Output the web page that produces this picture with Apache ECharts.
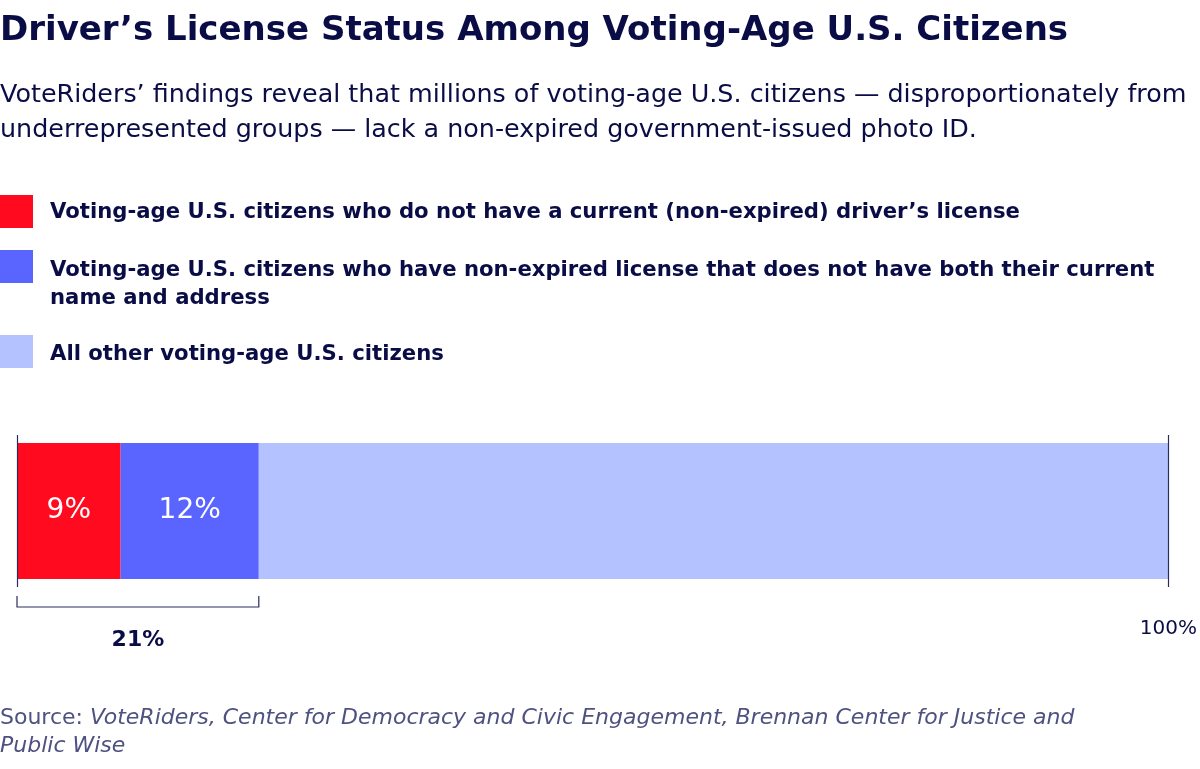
<!DOCTYPE html>
<html><head><meta charset="utf-8">
<script src="https://cdn.jsdelivr.net/npm/echarts@6/dist/echarts.min.js"></script>
<style>html,body{margin:0;padding:0;background:#fff}#c{width:1200px;height:769px}</style>
</head><body><div id="c"></div>
<script>
const categories = ['Voting-age U.S. citizens'];
const seriesNames = [
  "Voting-age U.S. citizens who do not have a current (non-expired) driver’s license",
  "Voting-age U.S. citizens who have non-expired license that does not have both their current\nname and address",
  "All other voting-age U.S. citizens"
];
const seriesValues = [9, 12, 79];
const barLabels = ['9%', '12%', ''];
const bracketValue = 21;
const bracketLabel = '21%';
const axisTickLabels = [100];

const colors = ['#FF0A1E', '#5A64FF', '#B4C3FF'];
const navy = '#0A0C46';
const FONT = '"DejaVu Sans"';

const chart = echarts.init(document.getElementById('c'), null, {renderer: 'canvas'});

const series = seriesValues.map((v, i) => ({
  name: seriesNames[i],
  type: 'bar',
  stack: 'total',
  barWidth: 136,
  data: [v],
  itemStyle: {color: colors[i]},
  label: {
    show: !!barLabels[i], position: 'inside', formatter: () => barLabels[i],
    color: '#fff', fontSize: 28, fontFamily: 'DejaVu Sans', fontWeight: 'normal'
  },
  silent: true,
  markLine: i === 0 ? {
    silent: true, symbol: 'none', label: {show: false},
    lineStyle: {color: '#2A2C5E', width: 1.2, type: 'solid'},
    data: [{xAxis: 0}, {xAxis: 100}]
  } : undefined
}));

chart.setOption({
  animation: false,
  backgroundColor: '#fff',
  grid: {left: 17, right: 30, top: 435, height: 152},
  xAxis: {
    type: 'value', min: 0, max: 100,
    splitLine: {show: false}, axisLine: {show: false}, axisTick: {show: false},
    axisLabel: {customValues: axisTickLabels, formatter: v => v + '%', color: navy, fontSize: 20, fontFamily: 'DejaVu Sans', margin: 32}
  },
  yAxis: {type: 'category', data: categories, show: false},
  series: series
});

const legendTops = [195, 250, 335];
const legendTextY = [212, 284, 354];
const legendGraphics = [];
seriesNames.forEach((n, i) => {
  legendGraphics.push({type: 'rect', x: 0, y: legendTops[i], shape: {width: 33, height: 33}, style: {fill: colors[i]}});
  legendGraphics.push({type: 'text', x: 50, y: legendTextY[i],
    style: {text: n, fill: navy, font: `bold 21.2px ${FONT}`, lineHeight: 28, verticalAlign: 'middle'}});
});

// bracket from 0 to 21% via the axis scale
const x0 = chart.convertToPixel({xAxisIndex: 0}, 0);
const x1 = chart.convertToPixel({xAxisIndex: 0}, bracketValue);

chart.setOption({graphic: [
  {type: 'text', x: 0, y: 31, style: {text: 'Driver’s License Status Among Voting-Age U.S. Citizens', fill: navy, font: `bold 34px ${FONT}`, verticalAlign: 'middle'}},
  {type: 'text', x: 0, y: 113, style: {text: 'VoteRiders’ findings reveal that millions of voting-age U.S. citizens — disproportionately from\nunderrepresented groups — lack a non-expired government-issued photo ID.', fill: navy, font: `25.4px ${FONT}`, lineHeight: 35, verticalAlign: 'middle'}},
  ...legendGraphics,
  {type: 'polyline', shape: {points: [[x0, 596], [x0, 607], [x1, 607], [x1, 596]]}, style: {stroke: '#2A2C5E', lineWidth: 1.2, fill: null}},
  {type: 'text', x: (x0 + x1) / 2, y: 640, style: {text: bracketLabel, fill: navy, font: `bold 22px ${FONT}`, align: 'center', verticalAlign: 'middle'}},
  {type: 'text', x: 0, y: 732, style: {
    text: '{a|Source: }{b|VoteRiders, Center for Democracy and Civic Engagement, Brennan Center for Justice and}\n{b|Public Wise}',
    verticalAlign: 'middle',
    rich: {a: {fill: '#4E5280', font: `22px ${FONT}`, lineHeight: 28}, b: {fill: '#4E5280', font: `italic 22px ${FONT}`, lineHeight: 28}}
  }}
]});
</script></body></html>
